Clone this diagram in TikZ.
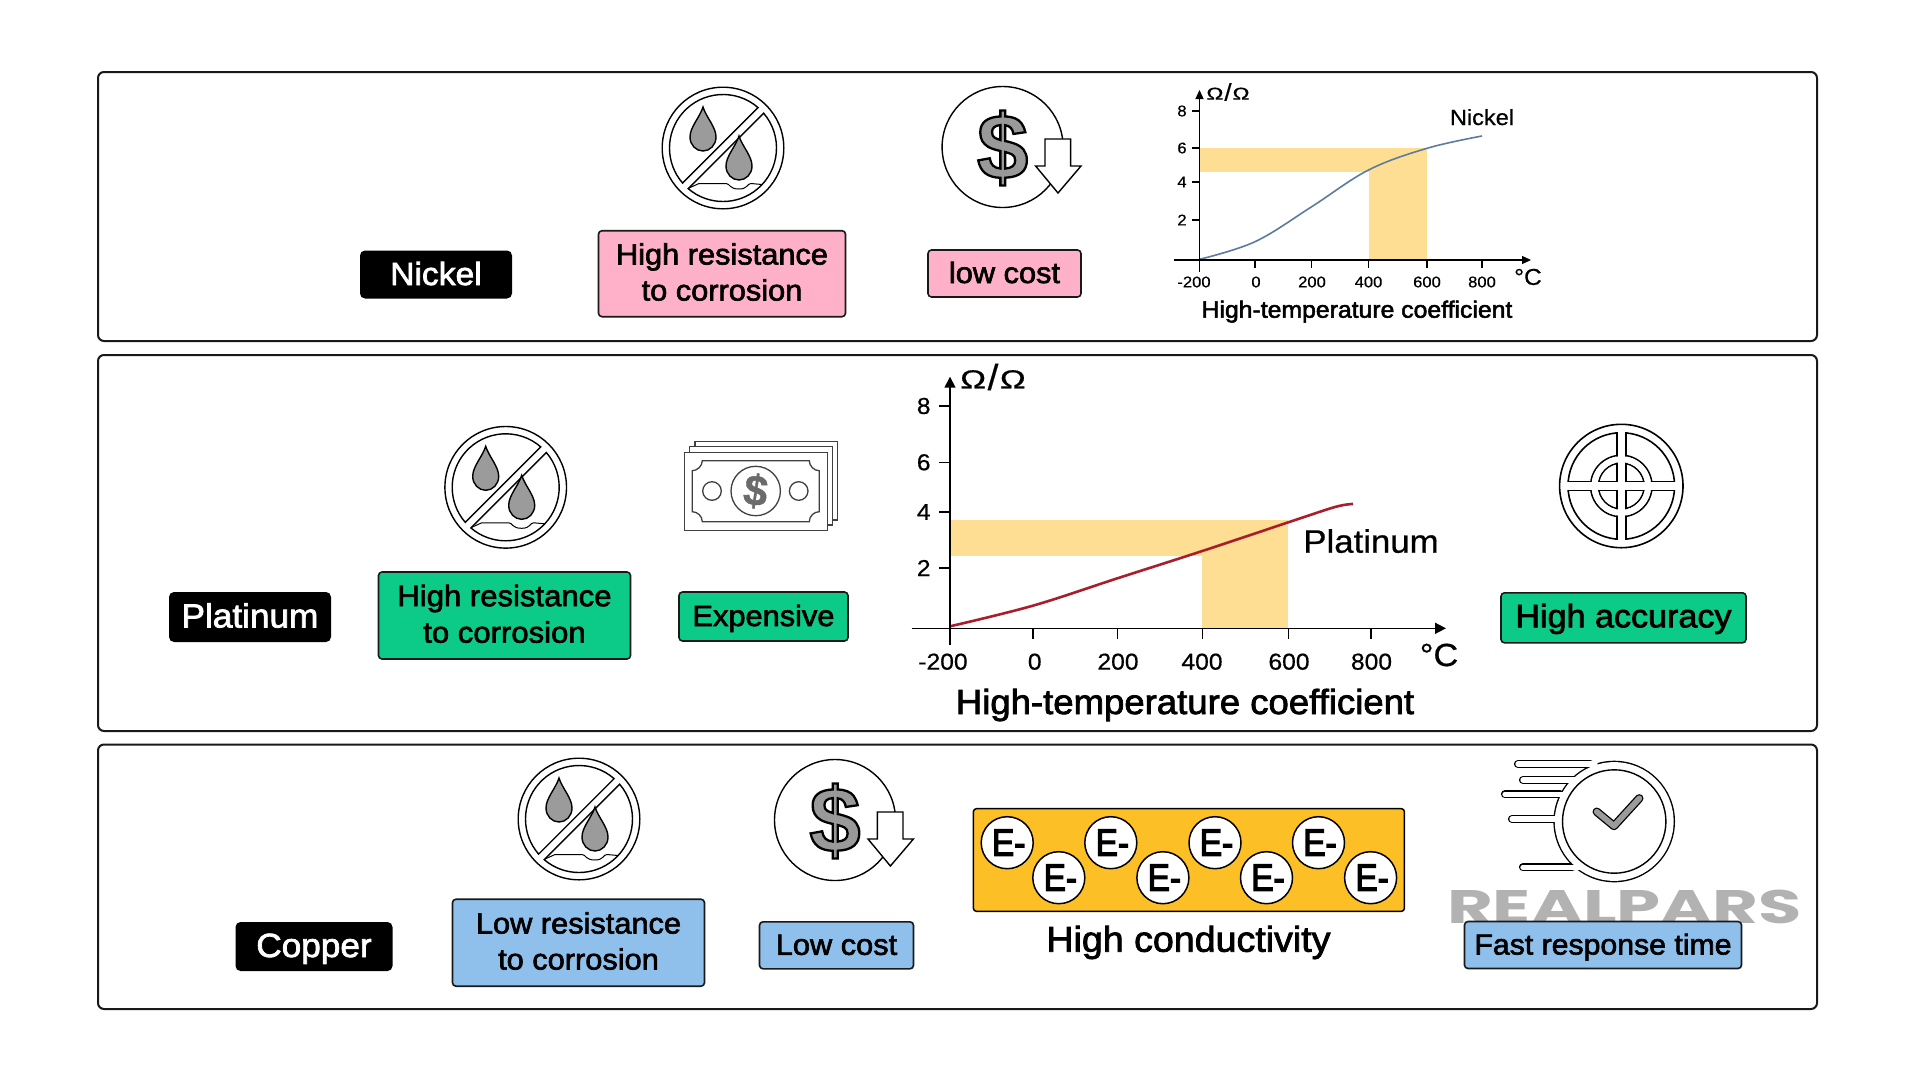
\documentclass[tikz,border=0pt]{standalone}
\usepackage{fontspec}
\usepackage{graphicx}
\usetikzlibrary{arrows.meta}
\setmainfont[FakeStretch=1.07,FakeBold=0.6]{Liberation Sans}
\newfontfamily\medf[FakeStretch=1.05,FakeBold=2.2]{Liberation Sans}
\newfontfamily\dolf[FakeBold=2.5]{Liberation Sans}
\newfontfamily\billf[FakeBold=1]{Liberation Sans}
\newfontfamily\elecf[FakeBold=3.5]{Liberation Sans}
\newfontfamily\logof{Poppins}
\definecolor{pinkb}{HTML}{FFB1C9}
\definecolor{greenb}{HTML}{0CCA88}
\definecolor{blueb}{HTML}{8FBFEB}
\definecolor{ambr}{HTML}{FDBF26}
\definecolor{band}{HTML}{FEDE92}
\definecolor{icong}{HTML}{9B9B9B}
\definecolor{steel}{HTML}{5B7C9E}
\definecolor{wine}{HTML}{A81E2D}
\newcommand{\twol}[2]{\raisebox{-1.6pt}[\height][\depth]{\begin{tabular}{@{}c@{}}#1\\#2\end{tabular}}}
\newcommand{\ohm}[2]{\scalebox{1.25}[1]{Ω}\kern#2pt\raisebox{-0.06em}{\fontsize{#1}{#1}\selectfont/}\kern#2pt\scalebox{1.25}[1]{Ω}}
\tikzset{
  panel/.style={draw=black!90,line width=2,rounded corners=6,inner sep=0,fill=white},
  lab/.style={draw=black!90,line width=1.6,rounded corners=3.5,inner sep=0,align=center,text=black,font=\medf\fontsize{29.3}{36}\selectfont},
  one/.style={text height=25,text depth=6},
  blk/.style={fill=black,rounded corners=5,inner sep=0,text=white,text height=27,text depth=6,font=\medf\fontsize{33.5}{36}\selectfont},
  ico/.style={draw=black,line width=1.4},
  ax/.style={line width=1.3,black},
  tickl/.style={inner sep=0,font=\fontsize{15.5}{18}\selectfont},
  tickb/.style={inner sep=0,font=\fontsize{23}{26}\selectfont},
  elec/.style={circle,draw=black,line width=1.5,fill=white,minimum size=52,inner sep=0,font=\elecf\fontsize{38}{40}\selectfont},
  nowater/.pic={
    \draw[ico,fill=white] (0,0) circle[radius=60.8];
    \draw[ico] (-49:53.5) arc[start angle=-49,end angle=-221,radius=53.5] -- cycle;
    \draw[ico] (-40.5:53.5) arc[start angle=-40.5,end angle=130.5,radius=53.5] -- cycle;
    \foreach \cx/\ty in {-20/-41,16/-12}{
      \draw[ico,fill=icong,shift={(\cx,\ty)}] (0,0) .. controls (-3,10) and (-13,20) .. (-13,30) .. controls (-13,38) and (-7,44) .. (0,44) .. controls (7,44) and (13,38) .. (13,30) .. controls (13,20) and (3,10) .. (0,0) -- cycle;
    }
    \draw[line width=1] (-34,40) -- (-24,35.5) -- (3,35.5) .. controls (7,35.5) and (6,41) .. (16,41) .. controls (25,41) and (24,35.5) .. (28,35.5) -- (39,36.5);
  },
  costdown/.pic={
    \draw[ico,fill=white] (0,0) circle[radius=60.5];
    \node[text=icong,inner sep=0,font=\dolf\bfseries\fontsize{92}{92}\selectfont] (-dol) at (0,1) {\special{pdf:bc [0.6] [0]}\$\special{pdf:ec}};
    \draw[ico,fill=white,line join=miter] (42.4,-8) -- (68,-8) -- (68,19) -- (78.4,19) -- (55.4,46) -- (33,19) -- (42.4,19) -- cycle;
  },
}
\begin{document}
\begin{tikzpicture}[x=1pt,y=-1pt]
\useasboundingbox (0,0) rectangle (1920,1080);
\fill[white] (0,0) rectangle (1920,1080);

% panels
\draw[panel] (98,72) rectangle (1817,341);
\draw[panel] (98,355) rectangle (1817,731);
\draw[panel] (98,744.5) rectangle (1817,1009);

% ---- Nickel panel
\node[blk,minimum width=152,minimum height=48,font=\medf\fontsize{32}{36}\selectfont] (nickel) at (436,274.5) {Nickel};
\pic (w1) at (723,148) {nowater};
\node[lab,fill=pinkb,minimum width=247,minimum height=86] (n1) at (722,273.7) {\twol{High resistance}{to corrosion}};
\pic (c1) at (1002.6,147) {costdown};
\node[lab,one,fill=pinkb,minimum width=153,minimum height=47] (n2) at (1004.5,273.5) {low cost};
% chart
\fill[band] (1199.5,148) rectangle (1427,172);
\fill[band] (1368.5,172) rectangle (1427,260);
\draw[steel,line width=1.6] plot[smooth,tension=0.6] coordinates {(1199.5,259.3) (1255,241.7) (1311.7,206.7) (1368.5,170) (1427,148.3) (1482,136)};
\draw[ax,-{Triangle[length=9pt,width=8pt]}] (1199.5,271.7) -- (1199.5,90);
\draw[ax,-{Triangle[length=9pt,width=8pt]}] (1174,260) -- (1531,260);
\foreach \yy/\tt in {111/8,148/6,182/4,220/2}{
  \draw[ax] (1192,\yy) -- (1199.5,\yy);
  \node[tickl] (ny\tt) at (1182,\yy) {\tt};
}
\foreach \xx in {1255,1311.7,1368.5,1427,1482}{\draw[ax] (\xx,260) -- (\xx,268);}
\foreach \xx/\tt/\nn in {1194/-200/a,1256/0/b,1312/200/c,1368.5/400/d,1427/600/e,1482/800/f}{
  \node[tickl] (nx\nn) at (\xx,282) {\tt};
}
\node[inner sep=0,font=\fontsize{23}{24}\selectfont] (nc) at (1528,277) {°C};
\node[inner sep=0,font=\fontsize{17}{20}\selectfont] (no) at (1228,92) {\ohm{24}{1}};
\node[inner sep=0,anchor=base,font=\fontsize{22}{24}\selectfont] (nn) at (1482,125) {Nickel};
\node[inner sep=0,anchor=base,font=\medf\fontsize{23.6}{26}\selectfont] (nt) at (1357,317.7) {High-temperature coefficient};

% ---- Platinum panel
\node[blk,minimum width=162,minimum height=50] (plat) at (250,617) {Platinum};
\pic (w2) at (505.7,487.3) {nowater};
\node[lab,fill=greenb,minimum width=252,minimum height=87,font=\medf\fontsize{29.6}{36.5}\selectfont] (p1) at (504.5,615.5) {\twol{High resistance}{to corrosion}};
% bills
\draw[line width=1.3,black!75,fill=white] (695,441.3) rectangle (837.3,520);
\draw[line width=1.3,black!75,fill=white] (689.7,446.7) rectangle (832.3,525);
\draw[line width=1.3,black!75,fill=white] (684.3,452.3) rectangle (827.3,530.3);
\draw[line width=1.3,black!75] (702.3,460.7) -- (809.3,460.7) .. controls (809.3,466) and (814,470.7) .. (819.3,470.7) -- (819.3,511.7) .. controls (814,511.7) and (809.3,516) .. (809.3,521.7) -- (702.3,521.7) .. controls (702.3,516) and (697.3,511.7) .. (692.3,511.7) -- (692.3,470.7) .. controls (697.3,470.7) and (702.3,466) .. (702.3,460.7) -- cycle;
\draw[line width=1.3,black!75] (755.7,491) circle[radius=24.7];
\draw[line width=1.3,black!75] (712,491) circle[radius=9.3];
\draw[line width=1.3,black!75] (798.7,491) circle[radius=9.3];
\node[inner sep=0,rotate=-8,text=black!58,font=\billf\bfseries\fontsize{43}{43}\selectfont] (bd) at (755.7,491) {\$};
\node[lab,one,fill=greenb,minimum width=169,minimum height=49] (p2) at (763.5,616.5) {Expensive};
% chart
\fill[band] (950,520) rectangle (1288.4,555.7);
\fill[band] (1202.3,555.7) rectangle (1288.4,628);
\draw[wine,line width=2.6] plot[smooth,tension=0.6] coordinates {(950,626.3) (1032.8,605.7) (1117.4,578.3) (1202.3,551) (1288.4,522.3) (1335,507) (1353,504)};
\draw[ax,line width=1.6,-{Triangle[length=11pt,width=11pt]}] (950,645) -- (950,376.7);
\draw[ax,line width=1.6,-{Triangle[length=11pt,width=11pt]}] (911.5,628.3) -- (1446,628.3);
\foreach \yy/\tt in {406/8,462.3/6,512/4,568/2}{
  \draw[ax,line width=1.6] (939.4,\yy) -- (950,\yy);
  \node[tickb] (py\tt) at (923.7,\yy) {\tt};
}
\foreach \xx in {1032.8,1117.4,1202.3,1288.4,1370.7}{\draw[ax,line width=1.6] (\xx,628.3) -- (\xx,639);}
\foreach \xx/\tt/\nn in {943/-200/a,1034.7/0/b,1118/200/c,1202/400/d,1289/600/e,1371.5/800/f}{
  \node[tickb] (px\nn) at (\xx,661.7) {\tt};
}
\node[inner sep=0,font=\fontsize{32}{34}\selectfont] (pc) at (1439,655) {°C};
\node[inner sep=0,font=\fontsize{26}{30}\selectfont] (po) at (993,377) {\ohm{36}{1.5}};
\node[inner sep=0,anchor=base,font=\fontsize{32.5}{34}\selectfont] (pn) at (1371,552.7) {Platinum};
\node[inner sep=0,anchor=base,font=\medf\fontsize{34.8}{36}\selectfont] (pt) at (1185,714) {High-temperature coefficient};
% target
\draw[ico,fill=white,line width=1.6] (1621.3,486) circle[radius=61.7];
\draw[ico,line width=1.6] (1621.3,486) circle[radius=53.3];
\draw[ico,line width=1.6] (1621.3,486) circle[radius=30.7];
\draw[ico,line width=1.6] (1621.3,486) circle[radius=23];
\draw[line width=10.6,black] (1568,486) -- (1674.6,486) (1621.3,432.7) -- (1621.3,539.3);
\draw[line width=7.4,white] (1566.5,486) -- (1676.1,486) (1621.3,431.2) -- (1621.3,540.8);
\draw[line width=6,white] (1621.3,486) circle[radius=26.85];
\node[lab,one,fill=greenb,minimum width=245,minimum height=50,font=\medf\fontsize{32.5}{36}\selectfont] (p3) at (1623.5,617.8) {High accuracy};

% ---- Copper panel
\node[blk,minimum width=157,minimum height=49] (copper) at (314,946.5) {Copper};
\pic (w3) at (579,819) {nowater};
\node[lab,fill=blueb,minimum width=252,minimum height=87] (c1b) at (578.5,942.7) {\twol{Low resistance}{to corrosion}};
\pic (c3) at (835,820) {costdown};
\node[lab,one,fill=blueb,minimum width=154,minimum height=47] (c2b) at (836.5,945.3) {Low cost};
\node[draw=black,line width=1.5,rounded corners=3,fill=ambr,minimum width=431,minimum height=102.6,inner sep=0] (ebox) at (1188.9,860) {};
\foreach \xx/\yy/\nn in {1007.2/842.7/a,1110.8/842.7/b,1215/842.7/c,1318.5/842.7/d,1058.8/877.7/e,1162.9/877.7/f,1266.5/877.7/g,1370.6/877.7/h}{
  \node[elec] (e\nn) at (\xx,\yy) {\kern3pt\scalebox{0.88}[1]{E-}};
}
\node[inner sep=0,anchor=base,font=\medf\fontsize{35.8}{38}\selectfont] (hc) at (1188.5,951.7) {High conductivity};
% clock
\foreach \yy/\xl/\xr in {764/1518/1590,780/1523/1575,794.3/1505/1560,819/1512/1555,867.3/1523/1572}{
  \draw[line width=8.2,black,line cap=round] (\xl,\yy) -- (\xr,\yy);
}
\fill[black] (1614.2,821.5) circle[radius=60.8];
\fill[white] (1614.2,821.5) circle[radius=59.4];
\foreach \yy/\xl/\xr in {764/1518/1595,780/1523/1585,794.3/1505/1575,819/1512/1570,867.3/1523/1590}{
  \draw[line width=5.4,white,line cap=round] (\xl,\yy) -- (\xr,\yy);
}
\draw[ico,fill=white] (1614.2,821.5) circle[radius=51.7];
\draw[line width=8.4,black,line cap=round,line join=round] (1596.7,811.7) -- (1614,826) -- (1639.3,798.3);
\draw[line width=5.8,icong,line cap=round,line join=round] (1596.7,811.7) -- (1614,826) -- (1639.3,798.3);
% watermark
\node[inner sep=0,text=black!30,font=\logof\bfseries\fontsize{47}{50}\selectfont] (logo) at (1624.5,906.5) {\scalebox{1.5}[1]{REALPARS}};
\node[lab,one,fill=blueb,minimum width=277,minimum height=47,font=\medf\fontsize{28.8}{36}\selectfont] (c3b) at (1603,945) {Fast response time};
\end{tikzpicture}
\end{document}
